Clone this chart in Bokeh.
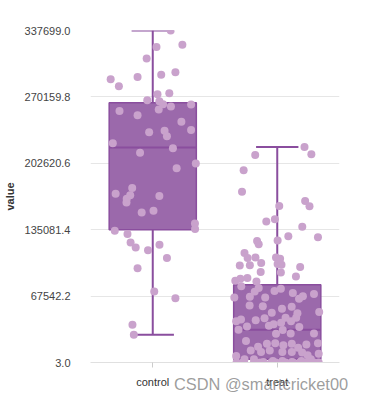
from bokeh.plotting import figure
from bokeh.models import FixedTicker, Range1d, LinearAxis, PrintfTickFormatter, ColumnDataSource
from bokeh.embed import file_html
from bokeh.resources import INLINE

categories = ["control", "treat"]

# box statistics: lower whisker, Q1, median, Q3, upper whisker
box_lower = [28250, 3.0]
box_q1 = [135000, 3240]
box_median = [218600, 33300]
box_q3 = [264200, 79200]
box_upper = [337699.0, 219300]

# jittered raw points (value, horizontal offset inside the category)
control_values = [337699, 323200, 320900, 309300, 295200, 292800, 290500, 288100, 281000, 273900,
                  272900, 266800, 265800, 262800, 262500, 260400, 257400, 255700, 251600, 244900,
                  236400, 235800, 234100, 230100, 223000, 217900, 213400, 202400, 197700, 177400,
                  171600, 170000, 169300, 166600, 162700, 154400, 152600, 141500, 135900, 134100,
                  130800, 122000, 119900, 117000, 114300, 106300, 95900, 72100, 65300, 38400, 28250]
control_jitter = [0.144, 0.238, 0.030, -0.049, 0.182, 0.068, -0.122, -0.338, -0.272, 0.133,
                  0.038, -0.044, 0.053, 0.083, 0.308, 0.146, 0.048, -0.267, -0.122, 0.230,
                  0.308, 0.095, -0.029, 0.114, -0.321, 0.162, -0.102, 0.346, 0.192, -0.165,
                  -0.298, -0.181, 0.053, -0.209, -0.211, 0.006, -0.089, 0.339, 0.340, -0.305,
                  -0.203, -0.178, 0.054, -0.137, -0.038, 0.114, -0.122, 0.012, 0.182, -0.163, -0.152]

treat_values = [219300, 211800, 211100, 195600, 173700, 164200, 159200, 158900, 145700, 143300,
                138200, 128500, 127500, 124000, 123700, 120400, 111300, 106200, 106800, 106800,
                105500, 101200, 100100, 98900, 98700, 99400, 97200, 92000, 91600, 87600,
                86000, 85300, 83200, 82500,
                77500, 75800, 75100, 72100, 72800, 70800, 69800, 66000, 67000, 66000,
                67300, 64800, 57900, 57200, 50500, 54700, 56700, 50000, 51300, 42000,
                43700, 42900, 45000, 39000, 40400, 45500, 42000, 45500, 33300, 36500,
                37400, 33100, 29400, 36200, 29400, 29300, 21800, 15900, 19200, 19600,
                17600, 19200, 18400, 19600, 15100, 12200, 10800, 12100, 10800, 10800,
                10300, 7300, 9000, 6600, 3240, 3240, 510, 1520, 1520, 510,
                1520, 3240, 3, 3, 3, 3, 3, 3, 3, 3,
                3, 3, 3, 3]
treat_jitter = [0.219, 0.274, -0.177, -0.270, -0.283, 0.224, 0.016, 0.259, -0.019, -0.088,
                0.201, 0.089, 0.327, 0.003, -0.162, -0.149, -0.263, -0.238, -0.175, -0.010,
                0.023, -0.129, 0.003, -0.220, -0.301, 0.034, 0.184, -0.133, 0.029, 0.150,
                -0.240, -0.296, -0.337, -0.167,
                -0.289, -0.149, 0.029, -0.181, -0.022, 0.125, 0.295, -0.345, -0.220, -0.097,
                0.206, 0.175, -0.222, -0.116, -0.044, 0.038, 0.116, 0.162, 0.337, -0.330,
                -0.291, -0.173, -0.102, -0.029, 0.031, 0.067, 0.111, 0.152, -0.311, -0.243,
                -0.067, 0.044, 0.108, 0.177, 0.295, -0.010, -0.251, -0.154, -0.083, -0.016,
                0.049, 0.117, 0.234, 0.327, 0.168, -0.213, -0.130, -0.060, 0.041, 0.117,
                0.200, 0.244, 0.333, -0.330, -0.263, -0.187, -0.111, -0.035, 0.041, 0.117,
                0.194, 0.270, 0.333, -0.327, -0.010, -0.276, -0.187, -0.048, 0.067, 0.181,
                0.232, 0.295, -0.139, 0.127]

y_ticks = [3.0, 67542.2, 135081.4, 202620.6, 270159.8, 337699.0]

watermark_text = "CSDN @smartcricket00"
watermark_pos = 1.37

box_fill = "#9b69ab"
box_line = "#8a4e9e"
point_color = "#c9a2cc"
font = "Liberation Sans"

centers = [i + 0.5 for i in range(len(categories))]

p = figure(width=350, height=395, output_backend="svg", toolbar_location=None,
           x_range=Range1d(0, 2), y_range=Range1d(3.0, 337699.0),
           min_border_left=76, min_border_right=11, min_border_top=30, min_border_bottom=28)
p.outline_line_color = None
p.background_fill_color = "white"
p.border_fill_color = "white"

# grid
p.xgrid.visible = False
p.ygrid.grid_line_color = "#e6e6e6"
p.ygrid.grid_line_width = 1

# y axis
p.yaxis.ticker = FixedTicker(ticks=y_ticks)
p.yaxis.formatter = PrintfTickFormatter(format="%.1f")
p.yaxis.axis_line_color = None
p.yaxis.major_tick_line_color = None
p.yaxis.minor_tick_line_color = None
p.yaxis.major_label_text_font = font
p.yaxis.major_label_text_font_size = "11px"
p.yaxis.major_label_text_color = "#444444"
p.yaxis.major_label_standoff = 14
p.yaxis.axis_label = "value"
p.yaxis.axis_label_text_font = font
p.yaxis.axis_label_text_font_size = "11px"
p.yaxis.axis_label_text_font_style = "bold"
p.yaxis.axis_label_text_color = "#333333"
p.yaxis.axis_label_standoff = 6

# x axis
p.xaxis.ticker = FixedTicker(ticks=centers)
p.xaxis.major_label_overrides = {c: name for c, name in zip(centers, categories)}
p.xaxis.axis_line_color = "#e0e0e0"
p.xaxis.major_tick_line_color = "#cccccc"
p.xaxis.major_tick_in = 0
p.xaxis.major_tick_out = 5
p.xaxis.minor_tick_line_color = None
p.xaxis.major_label_text_font = font
p.xaxis.major_label_text_font_size = "11px"
p.xaxis.major_label_text_color = "#333333"
p.xaxis.major_label_standoff = 8

# watermark row, drawn as an extra (line-less) axis under the category axis
wm_axis = LinearAxis(ticker=FixedTicker(ticks=[watermark_pos]),
                     major_label_overrides={watermark_pos: watermark_text})
wm_axis.axis_line_color = None
wm_axis.major_tick_line_color = None
wm_axis.minor_tick_line_color = None
wm_axis.major_tick_in = 0
wm_axis.major_tick_out = 0
wm_axis.major_label_standoff = -16
wm_axis.major_label_text_font = font
wm_axis.major_label_text_font_size = "16.4px"
wm_axis.major_label_text_color = "#8c8c8c"
wm_axis.major_label_text_alpha = 0.85
p.add_layout(wm_axis, "below")

box_src = ColumnDataSource(dict(x=centers, lower=box_lower, q1=box_q1, med=box_median,
                                q3=box_q3, upper=box_upper))

# whiskers
p.segment(x0="x", y0="q3", x1="x", y1="upper", source=box_src, line_color=box_line, line_width=2)
p.segment(x0="x", y0="lower", x1="x", y1="q1", source=box_src, line_color=box_line, line_width=2)
cap = 0.17
p.segment(x0=[c - cap for c in centers], y0=box_upper, x1=[c + cap for c in centers], y1=box_upper,
          line_color=box_line, line_width=2)
p.segment(x0=[c - cap for c in centers], y0=box_lower, x1=[c + cap for c in centers], y1=box_lower,
          line_color=box_line, line_width=2)

# boxes
p.vbar(x="x", bottom="q1", top="q3", width=0.7, source=box_src,
       fill_color=box_fill, line_color=box_line, line_width=1.5)
half = 0.35
p.segment(x0=[c - half for c in centers], y0=box_median, x1=[c + half for c in centers], y1=box_median,
          line_color=box_line, line_width=2)

# jittered points
xs = [centers[0] + j for j in control_jitter] + [centers[1] + j for j in treat_jitter]
ys = control_values + treat_values
p.scatter(x=xs, y=ys, size=8, fill_color=point_color, line_color=None)

open("out.html", "w").write(file_html(p, INLINE))
